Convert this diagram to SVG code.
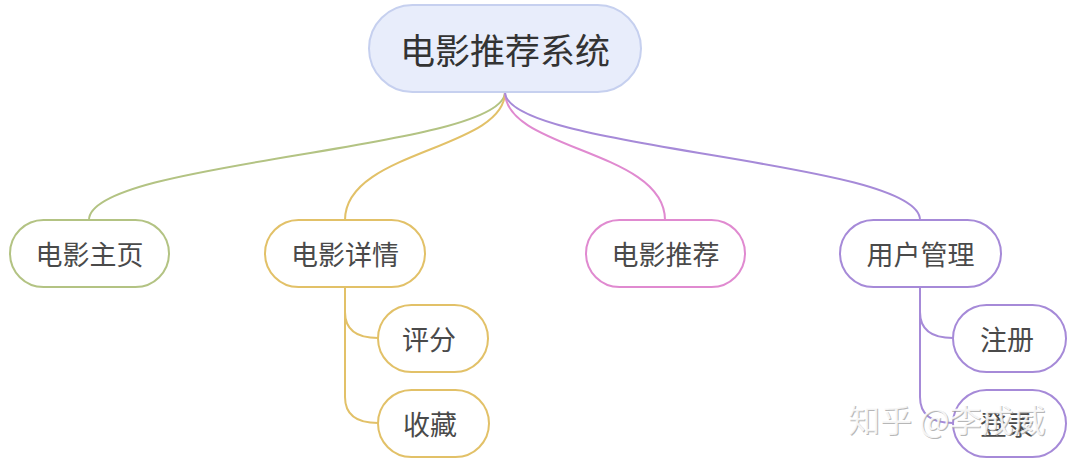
<svg xmlns="http://www.w3.org/2000/svg" width="1076" height="462" viewBox="0 0 1076 462">
<style>
text{font-family:"Noto Sans CJK SC","Noto Sans",sans-serif;text-anchor:middle;dominant-baseline:central}
.n rect{fill:#fff;stroke-width:2}
.n text{font-size:27px;fill:#4a4a4a}
.g rect{stroke:#b3c383}.y rect{stroke:#e2c168}.p rect{stroke:#e08ad0}.v rect{stroke:#a68ad8}
#edges path{fill:none;stroke-width:2}
.eg{stroke:#b3c383}.ey{stroke:#e2c168}.ep{stroke:#e08ad0}.ev{stroke:#a68ad8}
.wm{font-size:32px;font-family:"Noto Sans CJK SC",sans-serif;text-anchor:start}
</style>
<rect width="1076" height="462" fill="#fff"/>
<g id="edges">
<path class="eg" d="M505,92 C505,150 89,160 89,220"/>
<path class="ey" d="M505,92 C505,150 345,150 345,220"/>
<path class="ep" d="M505,92 C505,150 665,150 665,220"/>
<path class="ev" d="M505,92 C505,150 920,160 920,220"/>
<path class="ey" d="M345,287 V312 Q345,338 378,338"/>
<path class="ey" d="M345,287 V397 Q345,423 378,423"/>
<path class="ev" d="M920,287 V312 Q920,338 953,338"/>
<path class="ev" d="M920,287 V397 Q920,423 953,423"/>
</g>
<g id="root"><rect x="369" y="5" width="272" height="87" rx="43.5" fill="#e8edfb" stroke="#c6d0ef" stroke-width="2"/><text x="505" y="48" font-size="35" fill="#333">电影推荐系统</text></g>
<g id="n1" class="n g"><rect x="10" y="220" width="159" height="67" rx="33.5"/><text x="89.5" y="253">电影主页</text></g>
<g id="n2" class="n y"><rect x="265" y="220" width="160" height="67" rx="33.5"/><text x="345" y="253">电影详情</text></g>
<g id="n3" class="n p"><rect x="586" y="220" width="159" height="67" rx="33.5"/><text x="665.5" y="253">电影推荐</text></g>
<g id="n4" class="n v"><rect x="840" y="220" width="161" height="67" rx="33.5"/><text x="920.5" y="253">用户管理</text></g>
<g id="n5" class="n y"><rect x="378" y="305" width="110" height="67" rx="33.5"/><text x="429" y="338">评分</text></g>
<g id="n6" class="n y"><rect x="378" y="390" width="111" height="67" rx="33.5"/><text x="430" y="423">收藏</text></g>
<g id="n7" class="n v"><rect x="953" y="305" width="113" height="67" rx="33.5"/><text x="1007" y="338">注册</text></g>
<g id="n8" class="n v"><rect x="953" y="390" width="113" height="67" rx="33.5"/><text x="1007" y="423">登录</text></g>
<g id="watermark">
<text class="wm" x="849" y="419" fill="#999" opacity="0.7">知乎 @李成威</text>
<text class="wm" x="848" y="418" fill="#fff" opacity="0.85">知乎 @李成威</text>
</g>
</svg>
